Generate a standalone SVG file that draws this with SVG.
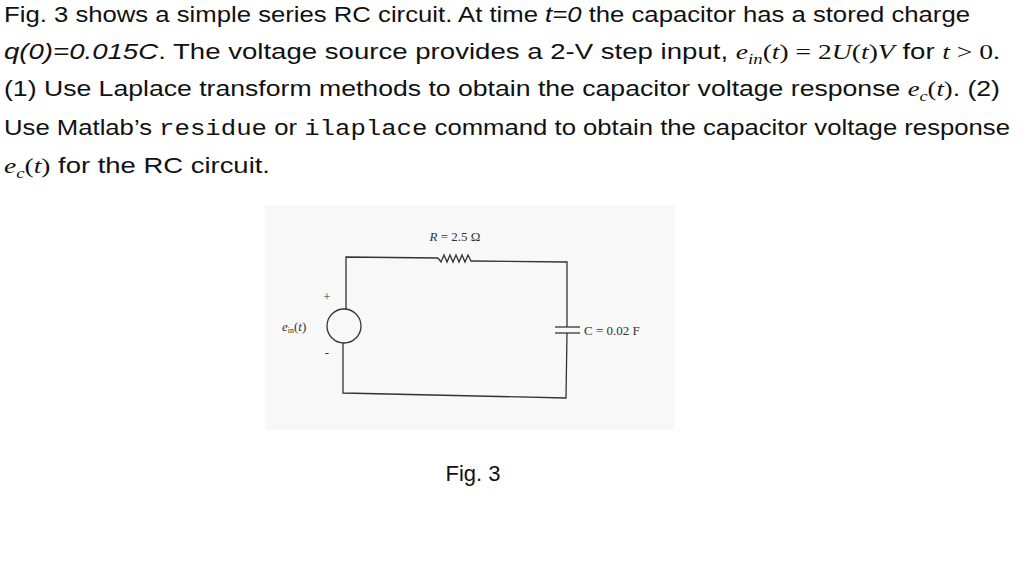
<svg xmlns="http://www.w3.org/2000/svg" width="1024" height="564" viewBox="0 0 1024 564">
<style>
.t{font-family:"Liberation Sans",sans-serif;font-size:22px;fill:#111}
.m{font-family:"Liberation Serif",serif;font-style:italic}
.r{font-family:"Liberation Serif",serif}
.mono{font-family:"Liberation Mono",monospace}
.w{fill:none;stroke:#333;stroke-width:1.3}
.s{font-family:"Liberation Serif",serif;font-size:13px;fill:#333}
</style>
<rect width="1024" height="564" fill="#fff"/>
<g id="text">
<text class="t" x="4" y="22" textLength="966" lengthAdjust="spacingAndGlyphs">Fig. 3 shows a simple series RC circuit. At time <tspan font-style="italic">t=0</tspan> the capacitor has a stored charge</text>
<text class="t" x="4" y="59" textLength="996" lengthAdjust="spacingAndGlyphs"><tspan font-style="italic">q(0)=0.015C</tspan>. The voltage source provides a 2-V step input, <tspan class="m">e</tspan><tspan class="m" font-size="15" dy="5">in</tspan><tspan class="r" dy="-5">(</tspan><tspan class="m">t</tspan><tspan class="r">) = 2</tspan><tspan class="m">U</tspan><tspan class="r">(</tspan><tspan class="m">t</tspan><tspan class="r">)</tspan><tspan class="m">V</tspan> for <tspan class="m">t</tspan><tspan class="r"> &gt; 0.</tspan></text>
<text class="t" x="4" y="96" textLength="996" lengthAdjust="spacingAndGlyphs">(1) Use Laplace transform methods to obtain the capacitor voltage response <tspan class="m">e</tspan><tspan class="m" font-size="15" dy="5">c</tspan><tspan class="r" dy="-5">(</tspan><tspan class="m">t</tspan><tspan class="r">)</tspan>. (2)</text>
<text class="t" x="4" y="135" textLength="1006" lengthAdjust="spacingAndGlyphs">Use Matlab’s <tspan class="mono">residue</tspan> or <tspan class="mono">ilaplace</tspan> command to obtain the capacitor voltage response</text>
<text class="t" x="4" y="173" textLength="266" lengthAdjust="spacingAndGlyphs"><tspan class="m">e</tspan><tspan class="m" font-size="15" dy="5">c</tspan><tspan class="r" dy="-5">(</tspan><tspan class="m">t</tspan><tspan class="r">)</tspan> for the RC circuit.</text>
<text class="t" x="473" y="481" text-anchor="middle">Fig. 3</text>
</g>
<rect x="265" y="205" width="410" height="225" fill="#f8f8f8"/>
<g id="connectors">
<polyline class="w" points="346,309 346,257 438,258"/>
<polyline class="w" points="473,261 567,262 567,327"/>
<polyline class="w" points="567,333 566,398 343,393 343,343"/>
</g>
<g id="resistor"><polyline class="w" points="438,258 441,262 444,255 447,262 450,255 453,262 456,255 459,262 462,255 465,262 468,255 471,261 473,261"/>
<text class="s" x="455" y="241" text-anchor="middle"><tspan font-style="italic">R</tspan> = 2.5 Ω</text></g>
<g id="capacitor"><line class="w" x1="555" y1="327" x2="580" y2="327"/><line class="w" x1="555" y1="333" x2="580" y2="333"/>
<text class="s" x="584" y="335">C = 0.02 F</text></g>
<g id="source"><circle class="w" cx="344" cy="326" r="17" fill="#fff"/>
<text class="s" x="327" y="301" text-anchor="middle">+</text><text class="s" x="327" y="357" text-anchor="middle">-</text>
<text class="s" x="282" y="331" font-size="11"><tspan font-style="italic">e</tspan><tspan font-size="8" dy="2">in</tspan><tspan dy="-2">(</tspan><tspan font-style="italic">t</tspan>)</text></g>
</svg>
